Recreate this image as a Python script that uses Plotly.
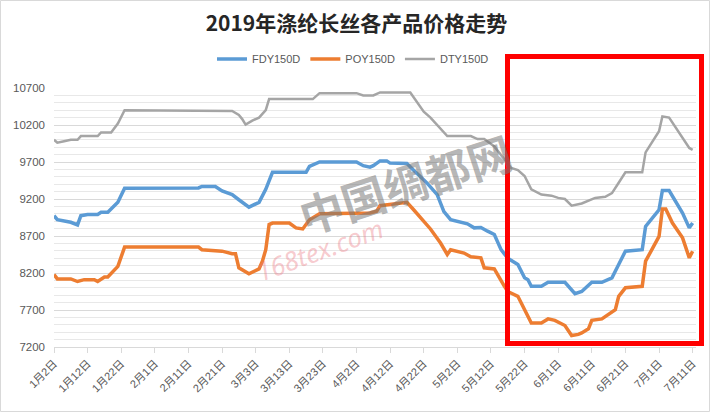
import plotly.graph_objects as go

YEAR = "2019-"

# x-axis ticks (every 10 days)
tick_dates = ["01-02", "01-12", "01-22", "02-01", "02-11", "02-21", "03-03", "03-13",
              "03-23", "04-02", "04-12", "04-22", "05-02", "05-12", "05-22", "06-01",
              "06-11", "06-21", "07-01", "07-11"]
tick_labels = ["1月2日", "1月12日", "1月22日", "2月1日", "2月11日", "2月21日", "3月3日",
               "3月13日", "3月23日", "4月2日", "4月12日", "4月22日", "5月2日", "5月12日",
               "5月22日", "6月1日", "6月11日", "6月21日", "7月1日", "7月11日"]
y_ticks = [7200, 7700, 8200, 8700, 9200, 9700, 10200, 10700]

# FDY150D
fdy_dates = ["01-02", "01-03", "01-07", "01-09", "01-10", "01-12", "01-15", "01-16", "01-18",
             "01-21", "01-23", "02-14", "02-15", "02-19", "02-21", "02-24", "02-26", "02-28",
             "03-01", "03-04", "03-05", "03-06", "03-08", "03-18", "03-19", "03-22", "04-02",
             "04-04", "04-06", "04-07", "04-09", "04-11", "04-12", "04-17", "04-19", "04-23",
             "04-26", "04-28", "04-30", "05-03", "05-05", "05-07", "05-09", "05-11", "05-13",
             "05-15", "05-17", "05-20", "05-22", "05-23", "05-24", "05-27", "05-29", "06-03",
             "06-06", "06-08", "06-11", "06-14", "06-17", "06-19", "06-21", "06-26", "06-27",
             "07-01", "07-02", "07-04", "07-08", "07-10", "07-11"]
fdy_values = [8975, 8920, 8885, 8850, 8975, 8990, 8990, 9020, 9020,
              9155, 9345, 9350, 9370, 9370, 9310, 9260, 9190, 9120,
              9090, 9155, 9240, 9330, 9560, 9560, 9640, 9700, 9700,
              9650, 9630, 9650, 9715, 9715, 9685, 9680, 9590, 9415,
              9260, 9030, 8920, 8885, 8865, 8810, 8815, 8765, 8720,
              8515, 8400, 8315, 8135, 8110, 8020, 8020, 8075, 8075,
              7920, 7950, 8075, 8075, 8135, 8315, 8495, 8515, 8830,
              9055, 9315, 9315, 9010, 8810, 8875]

# POY150D
poy_dates = ["01-02", "01-03", "01-07", "01-09", "01-11", "01-14", "01-15", "01-17", "01-18",
             "01-21", "01-23", "02-14", "02-15", "02-21", "02-24", "02-25", "02-26", "03-01",
             "03-04", "03-05", "03-06", "03-07", "03-08", "03-13", "03-15", "03-17", "03-19",
             "03-22", "04-06", "04-08", "04-09", "04-14", "04-17", "04-19", "04-22", "04-24",
             "04-27", "04-29", "04-30", "05-04", "05-06", "05-09", "05-10", "05-13", "05-16",
             "05-17", "05-20", "05-22", "05-24", "05-27", "05-29", "05-31", "06-03", "06-05",
             "06-07", "06-08", "06-10", "06-11", "06-14", "06-18", "06-19", "06-21", "06-26",
             "06-27", "07-01", "07-02", "07-03", "07-05", "07-08", "07-10", "07-11"]
poy_values = [8180, 8120, 8120, 8085, 8110, 8110, 8085, 8145, 8145,
              8290, 8550, 8550, 8515, 8495, 8460, 8460, 8270, 8190,
              8255, 8360, 8515, 8855, 8875, 8875, 8810, 8795, 8920,
              9000, 9010, 9035, 9110, 9145, 9155, 9055, 8900, 8795,
              8605, 8450, 8515, 8470, 8420, 8405, 8270, 8255, 8020,
              7950, 7885, 7705, 7525, 7525, 7580, 7560, 7490, 7355,
              7370, 7390, 7445, 7560, 7580, 7705, 7885, 8000, 8020,
              8360, 8695, 9065, 9065, 8875, 8675, 8405, 8495]

# DTY150D
dty_dates = ["01-02", "01-03", "01-05", "01-07", "01-09", "01-10", "01-15", "01-16", "01-19",
             "01-21", "01-23", "02-22", "02-24", "02-26", "02-27", "02-28", "03-02", "03-04",
             "03-06", "03-07", "03-20", "03-22", "04-02", "04-04", "04-07", "04-09", "04-18",
             "04-22", "04-24", "04-29", "05-06", "05-08", "05-10", "05-13", "05-16", "05-18",
             "05-20", "05-22", "05-24", "05-27", "05-30", "06-01", "06-03", "06-05", "06-08",
             "06-10", "06-12", "06-15", "06-17", "06-19", "06-21", "06-26", "06-27", "07-01",
             "07-02", "07-04", "07-07", "07-10", "07-11"]
dty_values = [10000, 9960, 9980, 10000, 10000, 10050, 10050, 10100, 10100,
              10220, 10400, 10400, 10390, 10335, 10280, 10205, 10260, 10300,
              10400, 10550, 10550, 10630, 10630, 10600, 10600, 10640, 10640,
              10380, 10300, 10050, 10050, 10010, 10010, 9910, 9730, 9620,
              9590, 9510, 9330, 9260, 9245, 9215, 9200, 9110, 9140,
              9180, 9215, 9230, 9280, 9420, 9560, 9560, 9830, 10115,
              10315, 10300, 10090, 9890, 9865]

series = [
    ("FDY150D", fdy_dates, fdy_values, "#5B9BD5", 3.5),
    ("POY150D", poy_dates, poy_values, "#ED7D31", 3.5),
    ("DTY150D", dty_dates, dty_values, "#A5A5A5", 2.5),
]

fig = go.Figure()
for name, dates, vals, color, width in series:
    fig.add_trace(go.Scatter(
        x=[YEAR + d for d in dates], y=vals, mode="lines", name=name,
        line=dict(color=color, width=width, shape="linear"),
    ))

L, R, T, B = 54, 14, 88, 66
W, H = 710, 413
PW, PH = W - L - R, H - T - B


def px(xp):
    return (xp - L) / PW


def py(yp):
    return (H - B - yp) / PH


FONT = "Liberation Sans, Noto Sans CJK SC, sans-serif"

fig.update_layout(
    width=W, height=H,
    margin=dict(l=L, r=R, t=T, b=B, autoexpand=False),
    paper_bgcolor="white", plot_bgcolor="white",
    title=dict(text="2019年涤纶长丝各产品价格走势",
               font=dict(family="Noto Sans CJK SC", size=21, color="#262626", weight="bold"),
               x=0.502, xref="container", xanchor="center",
               y=1 - 24 / H, yref="container", yanchor="middle"),
    legend=dict(orientation="h", x=px(353), xanchor="center", y=py(59), yanchor="middle",
                font=dict(family=FONT, size=11, color="#595959"),
                itemwidth=30, bgcolor="rgba(0,0,0,0)", tracegroupgap=0),
    showlegend=True,
    xaxis=dict(
        type="date", range=[YEAR + "01-02", YEAR + "07-12"], automargin=False,
        tickvals=[YEAR + d for d in tick_dates], ticktext=tick_labels,
        tickangle=-45, ticks="outside", ticklen=5, tickcolor="#d9d9d9",
        showgrid=False, showline=True, linecolor="#d9d9d9", zeroline=False,
        tickfont=dict(family=FONT, size=11, color="#595959"),
    ),
    yaxis=dict(
        range=[7200, 10700], tickvals=y_ticks, tickformat="d", automargin=False,
        showgrid=True, gridcolor="#d9d9d9", gridwidth=1, zeroline=False, showline=False,
        minor=dict(dtick=100, tick0=7200, showgrid=True, gridcolor="#e8e8e8", gridwidth=1),
        tickfont=dict(family=FONT, size=11.5, color="#595959"),
        ticklabelstandoff=8,
    ),
    shapes=[
        dict(type="rect", xref="paper", yref="paper",
             x0=px(0.5), x1=px(709.5), y0=py(411.5), y1=py(0.5),
             line=dict(color="#d9d9d9", width=1), layer="below"),
        dict(type="rect", xref="paper", yref="paper",
             x0=px(507.5), x1=px(701.5), y0=py(343.5), y1=py(56.5),
             line=dict(color="#FF0000", width=5)),
    ],
    annotations=[
        dict(text="中国绸都网", xref="paper", yref="paper", x=px(405), y=py(183),
             showarrow=False, textangle=-18,
             font=dict(family="Noto Sans CJK SC", size=44, color="rgba(120,120,120,0.55)",
                       weight="bold")),
        dict(text="168tex.com", xref="paper", yref="paper", x=px(248), y=py(250),
             showarrow=False, textangle=-20,
             font=dict(family="Noto Sans", size=26, color="rgba(235,120,130,0.40)",
                       style="italic")),
    ],
)

fig.write_html("out.html", config={"displayModeBar": False},
               post_script="document.body.style.margin='0';")
